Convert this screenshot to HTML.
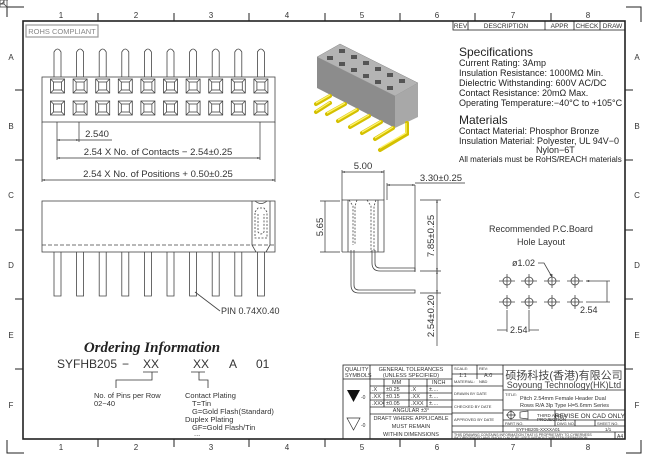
<!DOCTYPE html>
<html><head><meta charset="utf-8"><style>
html,body{margin:0;padding:0;background:#fff;}
svg{display:block;font-family:"Liberation Sans","Noto Sans CJK SC",sans-serif;}
</style></head><body>
<svg width="650" height="460" viewBox="0 0 650 460" xmlns="http://www.w3.org/2000/svg">
<defs>
<marker id="ar" viewBox="0 0 10 10" refX="10" refY="5" markerWidth="6" markerHeight="4" orient="auto-start-reverse"><path d="M0,2 L10,5 L0,8z" fill="#333"/></marker>
</defs>
<g fill="none" stroke="#222" stroke-width="1">
<path d="M7,17 V7 H24"/><path d="M626,7 H641 V22"/><path d="M7,440 V453 H24"/><path d="M626,453 H641 V440"/>
<rect x="23" y="21" width="602" height="418" stroke-width="1.6"/>
<path d="M98,13 V21 M174,13 V21 M249,13 V21 M325,13 V21 M400,13 V21 M475,13 V21 M551,13 V21"/>
<path d="M98,439 V447 M174,439 V447 M249,439 V447 M325,439 V447 M400,439 V447 M475,439 V447 M551,439 V447"/>
<path d="M15,90 H23 M15,160 H23 M15,230 H23 M15,299 H23 M15,369 H23"/>
<path d="M625,90 H633 M625,160 H633 M625,230 H633 M625,299 H633 M625,369 H633"/>
</g>
<g font-size="8" fill="#333" text-anchor="middle">
<text x="61" y="18">1</text><text x="136" y="18">2</text><text x="211" y="18">3</text><text x="287" y="18">4</text><text x="362" y="18">5</text><text x="437" y="18">6</text><text x="513" y="18">7</text><text x="588" y="18">8</text>
<text x="61" y="450">1</text><text x="136" y="450">2</text><text x="211" y="450">3</text><text x="287" y="450">4</text><text x="362" y="450">5</text><text x="437" y="450">6</text><text x="513" y="450">7</text><text x="588" y="450">8</text>
<text x="11" y="60">A</text><text x="11" y="129">B</text><text x="11" y="198">C</text><text x="11" y="268">D</text><text x="11" y="338">E</text><text x="11" y="408">F</text>
<text x="637" y="60">A</text><text x="637" y="129">B</text><text x="637" y="198">C</text><text x="637" y="268">D</text><text x="637" y="338">E</text><text x="637" y="408">F</text>
</g>
<g fill="none" stroke="#222" stroke-width="0.8"><rect x="453" y="21" width="172" height="9"/><path d="M468,21V30 M545,21V30 M574,21V30 M600,21V30"/></g>
<g font-size="6.5" fill="#333" text-anchor="middle"><text x="460.5" y="28">REV</text><text x="506" y="28">DESCRIPTION</text><text x="559.5" y="28">APPR</text><text x="587" y="28">CHECK</text><text x="612.5" y="28">DRAW</text></g>
<rect x="26" y="25" width="72" height="12" fill="none" stroke="#999" stroke-width="1.2"/>
<text x="62" y="34" font-size="7.5" fill="#888" text-anchor="middle">ROHS COMPLIANT</text>
<g fill="none" stroke="#444" stroke-width="0.8">
<rect x="42" y="77" width="233" height="45"/>
<path d="M54,77V52Q57.5,46 61,52V77 M76.6,77V52Q80.1,46 83.6,52V77 M99.2,77V52Q102.7,46 106.2,52V77 M121.8,77V52Q125.3,46 128.8,52V77 M144.4,77V52Q147.9,46 151.4,52V77 M167,77V52Q170.5,46 174,52V77 M189.6,77V52Q193.1,46 196.6,52V77 M212.2,77V52Q215.7,46 219.2,52V77 M234.8,77V52Q238.3,46 241.8,52V77 M257.4,77V52Q260.9,46 264.4,52V77"/>
</g>
<g fill="none" stroke="#444" stroke-width="0.8">
<g id="sq"><rect x="-7" y="-7" width="14" height="14"/><rect x="-4" y="-4" width="8" height="8"/><path d="M-7,-7L-4,-4M7,-7L4,-4M-7,7L-4,4M7,7L4,4"/></g>
</g>
<g fill="none" stroke="#444" stroke-width="0.8">
<use href="#sq" x="57.5" y="86"/><use href="#sq" x="80.1" y="86"/><use href="#sq" x="102.7" y="86"/><use href="#sq" x="125.3" y="86"/><use href="#sq" x="147.9" y="86"/><use href="#sq" x="170.5" y="86"/><use href="#sq" x="193.1" y="86"/><use href="#sq" x="215.7" y="86"/><use href="#sq" x="238.3" y="86"/><use href="#sq" x="260.9" y="86"/>
<use href="#sq" x="57.5" y="108"/><use href="#sq" x="80.1" y="108"/><use href="#sq" x="102.7" y="108"/><use href="#sq" x="125.3" y="108"/><use href="#sq" x="147.9" y="108"/><use href="#sq" x="170.5" y="108"/><use href="#sq" x="193.1" y="108"/><use href="#sq" x="215.7" y="108"/><use href="#sq" x="238.3" y="108"/><use href="#sq" x="260.9" y="108"/>
</g>
<g stroke="#333" stroke-width="0.7" fill="none">
<path d="M57,122V160 M79,122V142 M260,122V160 M42,122V182 M275,122V182"/>
<path d="M57,140H79" marker-start="url(#ar)" marker-end="url(#ar)"/><path d="M79,140H112"/>
<path d="M57,158H260" marker-start="url(#ar)" marker-end="url(#ar)"/>
<path d="M42,180H275" marker-start="url(#ar)" marker-end="url(#ar)"/>
</g>
<g font-size="9.5" fill="#333" text-anchor="middle">
<text x="97" y="137">2.540</text>
<text x="158" y="155">2.54 X No. of Contacts − 2.54±0.25</text>
<text x="158" y="177">2.54 X No. of Positions + 0.50±0.25</text>
</g>
<g fill="none" stroke="#444" stroke-width="0.8">
<rect x="42" y="201" width="233" height="51"/>
<path d="M42,245H275" stroke-dasharray="4,2"/>
<path d="M54,252V296H61V252 M76.6,252V296H83.6V252 M99.2,252V296H106.2V252 M121.8,252V296H128.8V252 M144.4,252V296H151.4V252 M167,252V296H174V252 M189.6,252V296H196.6V252 M212.2,252V296H219.2V252 M234.8,252V296H241.8V252 M257.4,252V296H264.4V252"/>
<path d="M252,201V245L256,252 M270,201V245L266,252 M255,201Q261,206 267,201"/>
<path d="M255,212L258,208H264L267,212V238H255Z M258,214V232Q261,236 264,232V214" stroke-dasharray="2,1.5"/>
<path d="M195,292L220,311"/>
</g>
<text x="221" y="314" font-size="9" fill="#333">PIN  0.74X0.40</text>
<text x="152" y="352" font-family="Liberation Serif,serif" font-size="15" font-weight="bold" font-style="italic" fill="#222" text-anchor="middle">Ordering Information</text>
<g font-size="12" fill="#333"><text x="57" y="368">SYFHB205</text><text x="122" y="368">−</text><text x="143" y="368">XX</text><text x="193" y="368">XX</text><text x="229" y="368">A</text><text x="256" y="368">01</text></g>
<g fill="none" stroke="#333" stroke-width="0.8"><path d="M143,372H158 M152,372V380H116V388 M191,372H205 M199,372V380H208V388"/></g>
<g font-size="7.5" fill="#333">
<text x="94" y="398">No. of Pins per Row</text><text x="94" y="406">02~40</text>
<text x="185" y="398">Contact Plating</text><text x="192" y="406">T=Tin</text><text x="192" y="414">G=Gold Flash(Standard)</text><text x="185" y="422">Duplex Plating</text><text x="192" y="430">GF=Gold Flash/Tin</text><text x="194" y="436">...</text>
</g>
<g>
<path d="M317,57L340,44L418,83L395,96Z" fill="#b4b4b4" stroke="#888" stroke-width="0.5"/>
<path d="M317,57L395,96V128L317,88Z" fill="#8c8c8c"/>
<path d="M395,96L418,83V117L395,128Z" fill="#a8a8a8"/>
<g fill="#555"><rect x="339" y="49" width="6" height="4"/><rect x="351" y="55" width="6" height="4"/><rect x="363" y="61" width="6" height="4"/><rect x="375" y="67" width="6" height="4"/><rect x="387" y="73" width="6" height="4"/><rect x="399" y="79" width="6" height="4"/>
<rect x="327" y="56" width="6" height="4"/><rect x="339" y="62" width="6" height="4"/><rect x="351" y="68" width="6" height="4"/><rect x="363" y="74" width="6" height="4"/><rect x="375" y="80" width="6" height="4"/><rect x="387" y="86" width="6" height="4"/></g>
<g stroke="#d4c000" stroke-width="4" stroke-linecap="round" fill="none"><path d="M330,96L316,104 M330,103L316,112 M345,104L327,114 M357,110L338,121 M369,116L350,127 M381,122L362,133 M393,128L375,139"/>
<path d="M407,123V134L380,150"/></g>
<g stroke="#fff36a" stroke-width="1.3" fill="none"><path d="M330,95L316,103 M330,102L316,111 M345,103L327,113 M357,109L338,120 M369,115L350,126 M381,121L362,132 M393,127L375,138 M406,123V133L380,148"/></g>
</g>
<g fill="none" stroke="#444" stroke-width="0.8">
<path d="M342,252V200H384V252H378V200 M342,252H348V200 M348,252H378"/>
<path d="M349,200L353,206V245 M357,200L355,206V245 M367,200L371,206V252 M376,200L374,206V252" stroke-dasharray="2,1.5"/>
<path d="M351,250V285Q351,293 359,293H415V290H359Q354,290 354,285V250"/>
<path d="M372,250V263Q372,271 380,271H415V268H380Q375,268 375,263V250"/>
<path d="M342,200V170 M384,200V170 M387,200V183 M415,185V272" stroke="#333" stroke-width="0.7"/>
<path d="M342,172H384" stroke="#333" stroke-width="0.7" marker-start="url(#ar)" marker-end="url(#ar)"/>
<path d="M387,185H415" stroke="#333" stroke-width="0.7" marker-start="url(#ar)" marker-end="url(#ar)"/>
<path d="M415,183H465" stroke="#333" stroke-width="0.7"/>
<path d="M325,201V252 M320,201H340 M320,252H340 M420,200H441 M420,271H441 M420,293H441" stroke="#333" stroke-width="0.7"/>
<path d="M437,200V271" stroke="#333" stroke-width="0.7" marker-start="url(#ar)" marker-end="url(#ar)"/>
<path d="M437,271V293" stroke="#333" stroke-width="0.7" marker-start="url(#ar)" marker-end="url(#ar)"/>
<path d="M437,293V346" stroke="#333" stroke-width="0.7"/>
</g>
<g font-size="9.5" fill="#333" text-anchor="middle">
<text x="363" y="169">5.00</text><text x="441" y="181">3.30±0.25</text>
<text transform="translate(323,227) rotate(-90)">5.65</text>
<text transform="translate(434,236) rotate(-90)">7.85±0.25</text>
<text transform="translate(434,316) rotate(-90)">2.54±0.20</text>
</g>
<g fill="#222">
<text x="459" y="56" font-size="12">Specifications</text>
<g font-size="9"><text x="459" y="66">Current Rating:  3Amp</text><text x="459" y="76">Insulation Resistance: 1000MΩ Min.</text><text x="459" y="86">Dielectric Withstanding:  600V AC/DC</text><text x="459" y="96">Contact Resistance:  20mΩ Max.</text><text x="459" y="106">Operating Temperature:−40°C to +105°C</text></g>
<text x="459" y="124" font-size="12">Materials</text>
<g font-size="9"><text x="459" y="134">Contact Material: Phosphor Bronze</text><text x="459" y="144">Insulation Material: Polyester, UL 94V−0</text><text x="536" y="153">Nylon−6T</text><text x="459" y="162" font-size="8">All materials must be RoHS/REACH materials</text></g>
</g>
<g font-size="9" fill="#333" text-anchor="middle"><text x="541" y="232">Recommended P.C.Board</text><text x="541" y="245">Hole Layout</text></g>
<g fill="none" stroke="#444" stroke-width="0.8">
<g id="h"><circle r="4"/><path d="M-8,0H8M0,-7V7"/></g>
</g>
<g fill="none" stroke="#444" stroke-width="0.8">
<use href="#h" x="507" y="281"/><use href="#h" x="529" y="281"/><use href="#h" x="552" y="281"/><use href="#h" x="575" y="281"/>
<use href="#h" x="507" y="302"/><use href="#h" x="529" y="302"/><use href="#h" x="552" y="302"/><use href="#h" x="575" y="302"/>
<path d="M538,263H544L552,277" marker-end="url(#ar)"/>
<path d="M586,281H610 M586,302H610 M607,281V302" marker-start="url(#ar)"/>
<path d="M507,310V332 M529,310V332 M497,330H507 M539,330H529"/>
</g>
<g font-size="9" fill="#333"><text x="512" y="266">ø1.02</text><text x="580" y="313">2.54</text><text x="510" y="333">2.54</text></g>
<g fill="none" stroke="#222" stroke-width="0.8">
<rect x="343" y="365" width="282" height="74"/>
<path d="M370,365V439 M452,365V439 M503,365V432 M477,365V379 M343,379H452 M370,386H452 M370,393H452 M370,400H452 M370,407H452 M370,414H452 M384,379V407 M409,379V407 M427,379V407"/>
<path d="M452,374H503 M452,386H503 M452,400H503 M452,413H503 M452,426H625 M503,390H625 M503,410H625 M503,420H625 M555,410V426 M575,420V426 M595,420V426 M452,432H625 M615,432V439"/>
</g>
<g font-size="5.5" fill="#333">
<text x="345" y="371">QUALITY</text><text x="345" y="377">SYMBOLS</text>
<text x="411" y="371" text-anchor="middle">GENERAL TOLERANCES</text><text x="411" y="377" text-anchor="middle">(UNLESS SPECIFIED)</text>
<text x="392" y="384">MM</text><text x="432" y="384">INCH</text>
<text x="372" y="391">.X</text><text x="386" y="391">±0.25</text><text x="411" y="391">.X</text><text x="429" y="391">±....</text>
<text x="372" y="398">.XX</text><text x="386" y="398">±0.15</text><text x="411" y="398">.XX</text><text x="429" y="398">±....</text>
<text x="372" y="405">.XXX</text><text x="386" y="405">±0.05</text><text x="411" y="405">.XXX</text><text x="429" y="405">±....</text>
<text x="411" y="412" text-anchor="middle">ANGULAR ±3°</text>
<text x="411" y="420" text-anchor="middle">DRAFT WHERE APPLICABLE</text><text x="411" y="428" text-anchor="middle">MUST REMAIN</text><text x="411" y="436" text-anchor="middle">WITHIN DIMENSIONS</text>
<text x="454" y="370" font-size="4">SCALE:</text><text x="459" y="377">1:1</text><text x="479" y="370" font-size="4">REV:</text><text x="484" y="377">A.0</text>
<text x="454" y="383" font-size="4">MATERIAL:</text><text x="479" y="383" font-size="4">NBD</text>
<text x="454" y="395" font-size="4">DRAWN BY    DATE</text><text x="454" y="408" font-size="4">CHECKED BY   DATE</text><text x="454" y="421" font-size="4">APPROVED BY  DATE</text>
<text x="505" y="396" font-size="4">TITLE:</text><text x="520" y="400">Pitch 2.54mm Female Header Dual</text><text x="520" y="407">Rows R/A 3lp Type H=5.6mm Series</text>
<text x="537" y="417" font-size="4.5">THIRD ANGLE</text><text x="537" y="421" font-size="4.5">PROJECTION</text>
<text x="590" y="418" font-size="6.5" text-anchor="middle">REVISE ON CAD ONLY</text>
<text x="505" y="425" font-size="4">PART NO.</text><text x="516" y="431" font-size="4.5">SYFHB205-XXXXA01</text><text x="557" y="425" font-size="4">DWG NO.</text><text x="597" y="425" font-size="4">SHEET NO.</text><text x="605" y="431" font-size="4.5">1/1</text>
<text x="454" y="436" font-size="3.5">THIS DRAWING CONTAINS INFORMATION THAT IS PROPRIETARY TO CYBERNESS</text><text x="454" y="439" font-size="3.5">INCORPORATED AND SHOULD NOT BE USED WITHOUT WRITTEN PERMISSION</text>
<text x="617" y="438" font-size="5">A4</text>
</g>
<path d="M347,390H360L353.5,402Z" fill="#111"/><text x="361" y="399" font-size="5" fill="#333">-0</text>
<path d="M347,418H360L353.5,430Z" fill="none" stroke="#333" stroke-width="0.7"/><text x="361" y="427" font-size="5" fill="#333">-0</text>
<g fill="none" stroke="#333" stroke-width="0.7"><circle cx="511" cy="415" r="3.5"/><path d="M506,415H516M511,410V420 M520,412V418L528,419V411Z"/></g>
<text x="564" y="379" font-size="11" fill="#444" text-anchor="middle">硕扬科技(香港)有限公司</text>
<text x="564" y="388" font-size="9" fill="#444" text-anchor="middle">Soyoung Technology(HK)Ltd</text>
</svg>
</body></html>
